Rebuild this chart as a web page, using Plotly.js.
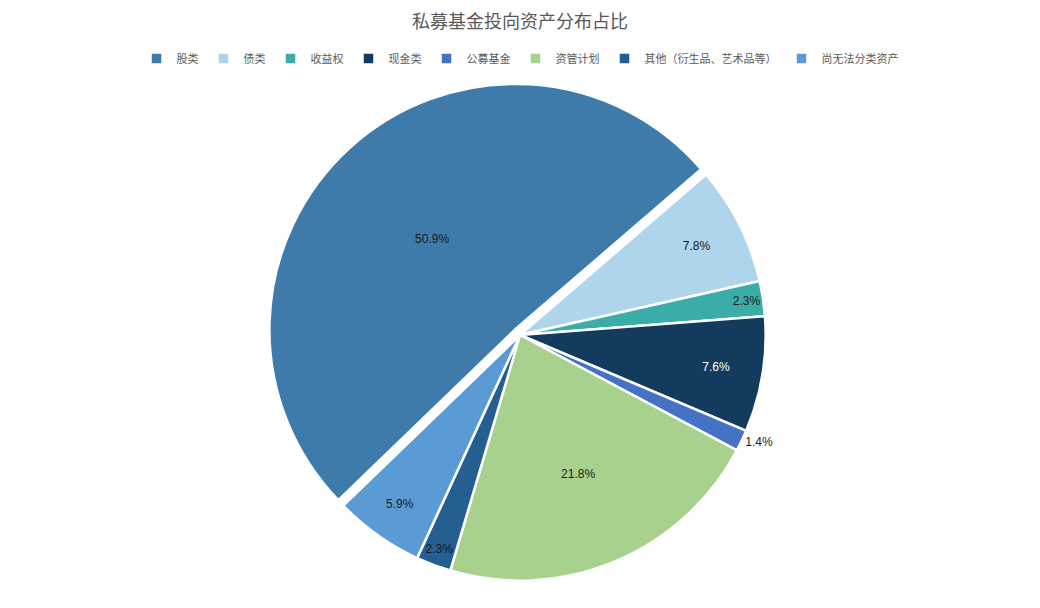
<!DOCTYPE html>
<html>
<head>
<meta charset="utf-8">
<script src="https://cdn.plot.ly/plotly-3.0.1.min.js"></script>
<style>html,body{margin:0;padding:0;background:#fff;}#chart{width:1040px;height:608px;}</style>
</head>
<body>
<div id="chart"></div>
<script>
const categories = ['股类', '债类', '收益权', '现金类', '公募基金', '资管计划', '其他（衍生品、艺术品等）', '尚无法分类资产'];
const shares = [50.9, 7.8, 2.3, 7.6, 1.4, 21.8, 2.3, 5.9];
const sliceColors = ['#3E7BAA', '#AED5EB', '#3AADA8', '#123B5E', '#4472C4', '#A9D18E', '#255E91', '#5B9BD5'];
const labelColors = ['#1a1a1a', '#1a1a1a', '#1a1a1a', '#ffffff', '#1a1a1a', '#1a1a1a', '#1a1a1a', '#1a1a1a'];
const labelPositions = ['inside', 'inside', 'inside', 'inside', 'outside', 'inside', 'inside', 'inside'];
const pulls = [0.03, 0, 0, 0, 0, 0, 0, 0];

const trace = {
  type: 'pie',
  labels: categories,
  values: shares,
  sort: false,
  direction: 'clockwise',
  rotation: -134,
  pull: pulls,
  marker: {colors: sliceColors, line: {color: '#ffffff', width: 2.5}},
  texttemplate: '%{percent:.1%}',
  textposition: labelPositions,
  insidetextorientation: 'horizontal',
  textfont: {family: 'Liberation Sans, Arial, sans-serif', size: 12, color: labelColors},
  outsidetextfont: {family: 'Liberation Sans, Arial, sans-serif', size: 12, color: '#1a1a1a'},
  automargin: false,
  hoverinfo: 'label+percent'
};

const layout = {
  width: 1040,
  height: 608,
  paper_bgcolor: '#ffffff',
  plot_bgcolor: '#ffffff',
  margin: {l: 22, r: 22, t: 82, b: 20},
  title: {
    text: '私募基金投向资产分布占比',
    x: 0.5, xanchor: 'center',
    y: 0.965, yanchor: 'middle',
    font: {family: 'Noto Sans CJK SC, sans-serif', size: 18, color: '#595959'}
  },
  showlegend: true,
  legend: {
    orientation: 'h',
    x: 0.5, xanchor: 'center',
    y: 1.018, yanchor: 'bottom',
    font: {family: 'Noto Sans CJK SC, sans-serif', size: 11, color: '#595959'},
    itemwidth: 30,
    tracegroupgap: 0
  },
  font: {family: 'Noto Sans CJK SC, sans-serif'}
};

Plotly.newPlot('chart', [trace], layout, {displayModeBar: false, staticPlot: true});
</script>
</body>
</html>
